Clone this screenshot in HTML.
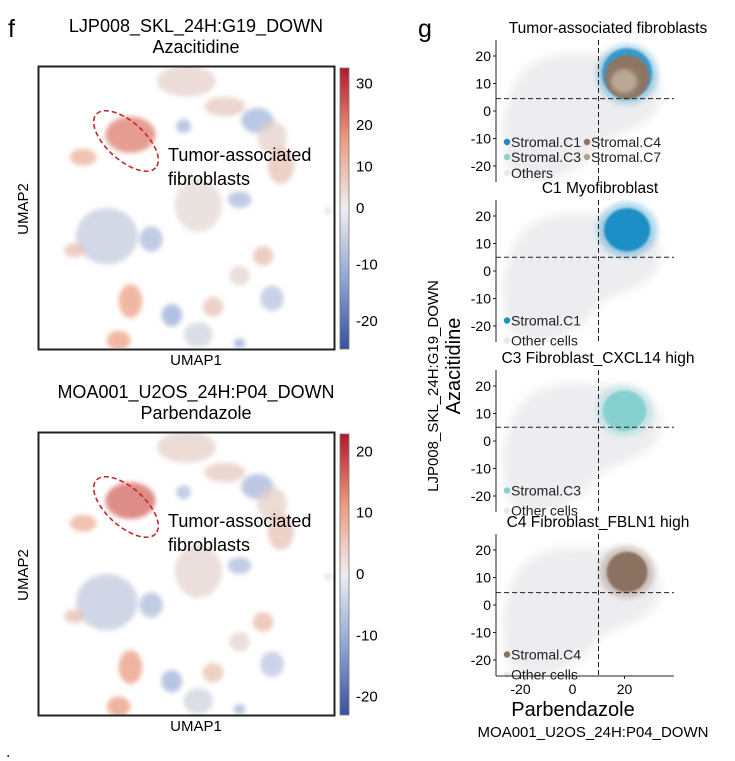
<!DOCTYPE html>
<html><head><meta charset="utf-8">
<style>
body{margin:0;background:#fff;}
svg{display:block;font-family:"Liberation Sans",Arial,sans-serif;}
</style></head>
<body>
<svg id="fig" width="735" height="761" viewBox="0 0 735 761">
<defs>
<filter id="blur" x="-50%" y="-50%" width="200%" height="200%"><feGaussianBlur stdDeviation="2.5"/></filter>
<filter id="blur2" x="-50%" y="-50%" width="200%" height="200%"><feGaussianBlur stdDeviation="5"/></filter>
<filter id="blur1" x="-50%" y="-50%" width="200%" height="200%"><feGaussianBlur stdDeviation="1"/></filter>
<filter id="blur3" x="-50%" y="-50%" width="200%" height="200%"><feGaussianBlur stdDeviation="3"/></filter>
<linearGradient id="cb" x1="0" y1="1" x2="0" y2="0">
<stop offset="0" stop-color="#3a4fa0"/><stop offset="0.25" stop-color="#8fa6d6"/><stop offset="0.5" stop-color="#eeeeee"/><stop offset="0.75" stop-color="#ec9a7c"/><stop offset="1" stop-color="#b2182b"/>
</linearGradient>
<clipPath id="c1"><rect x="39" y="67" width="295" height="281"/></clipPath>
<clipPath id="c2"><rect x="39" y="433" width="295" height="282"/></clipPath>
</defs>
<text x="8" y="37" font-size="25">f</text>
<text x="418" y="37" font-size="25">g</text>
<g id="left"></g>
<g id="right"></g>
<text x="6" y="757" font-size="16">.</text>
</svg>
<script>
// ---------- UMAP data ----------
const umapBlobX = [5.0,3.1,1.5,6.3,7.4,7.9,8.2,4.9,5.4,6.8,2.3,3.8,1.2,3.1,4.5,2.7,7.9,7.6,6.8,5.9,5.4,6.8,9.8];
const umapBlobY = [9.5,7.6,6.8,8.6,8.1,7.5,6.5,7.9,5.1,5.3,4.0,3.9,3.5,1.7,1.2,0.3,1.8,3.3,2.6,1.5,0.5,0.2,4.9];
const umapBlobRx = [1.0,0.85,0.45,0.7,0.55,0.5,0.45,0.25,0.8,0.4,1.05,0.4,0.35,0.4,0.35,0.4,0.4,0.35,0.35,0.35,0.5,0.2,0.12];
const umapBlobRy = [0.55,0.65,0.3,0.35,0.45,0.6,0.65,0.25,0.95,0.3,1.0,0.45,0.25,0.6,0.4,0.35,0.45,0.35,0.35,0.35,0.45,0.18,0.12];
const umapValues1 = [4,22,13,6,-10,4,8,-10,2,-9,-5,-9,9,17,-12,17,-7,9,3,8,-3,-12,2];
const umapValues2 = [3,17,9,4,-9,3,5,-8,2,-8,-5,-8,6,12,-10,12,-6,7,2,6,-3,-10,2];
const cbTicks1 = [30,20,10,0,-10,-20];
const cbRange1 = [-25,34];
const cbTicks2 = [20,10,0,-10,-20];
const cbRange2 = [-23,23];

// ---------- Scatter data ----------
const scatterXTicks = [-20,0,20];
const scatterYTicks = [20,10,0,-10,-20];
const cloudCx = [-8,14,0,-14];
const cloudCy = [-6,6,4,-16];
const cloudRx = [19,20,24,12];
const cloudRy = [17,14,17,10];
const panelTitles = ["Tumor-associated fibroblasts","C1 Myofibroblast","C3 Fibroblast_CXCL14 high","C4 Fibroblast_FBLN1 high"];
const clusterCx = [21,21,20,21];
const clusterCy = [13,15,11,12];
const clusterRx = [8.5,8.5,8,7.5];
const clusterRy = [8,7.5,7,7];
const clusterColors = ["#8d7462","#1f8fc7","#86d0cf","#8b7260"];
const hLine = [4.5,5,5,4.5];
const vLine = 10;

const NS="http://www.w3.org/2000/svg";
function el(tag,attrs,parent){const e=document.createElementNS(NS,tag);for(const k in attrs)e.setAttribute(k,attrs[k]);parent.appendChild(e);return e;}
function txt(s,attrs,parent){const e=el('text',attrs,parent);e.textContent=s;return e;}
function lerp(a,b,t){return a+(b-a)*t;}
function hex(c){return [parseInt(c.slice(1,3),16),parseInt(c.slice(3,5),16),parseInt(c.slice(5,7),16)];}
function cmap(v,lo,hi){
  const stops=[["#3a4fa0",0],["#8fa6d6",.25],["#e0dede",.5],["#ec9a7c",.75],["#b2182b",1]];
  let t = v<0 ? 0.5-0.5*Math.min(1,v/lo) : 0.5+0.5*Math.min(1,v/hi);
  for(let i=0;i<stops.length-1;i++){
    if(t<=stops[i+1][1]){const a=hex(stops[i][0]),b=hex(stops[i+1][0]);const f=(t-stops[i][1])/(stops[i+1][1]-stops[i][1]);
      return `rgb(${Math.round(lerp(a[0],b[0],f))},${Math.round(lerp(a[1],b[1],f))},${Math.round(lerp(a[2],b[2],f))})`;}
  }
  return stops[4][0];
}

const L=document.getElementById('left');
function umapPanel(top, t1, t2, values, ticks, range, clip, idx){
  const g=el('g',{},L);
  
  
  const tt=txt(t1,{x:196,y:top-35,'font-size':18,'text-anchor':'middle'},g);
  
  
  const t2e=txt(t2,{x:196,y:top-14,'font-size':18,'text-anchor':'middle'},g);
  
  
  const x0=39,w=295,h=282;
  const sx=u=>x0+u/10*w, sy=u=>top+h-u/10*h;
  const bl=el('g',{'clip-path':'url(#'+clip+')'},g);
  
  
  for(let i=0;i<umapBlobX.length;i++){
    const e=el('ellipse',{cx:sx(umapBlobX[i]),cy:sy(umapBlobY[i]),rx:umapBlobRx[i]/10*w,ry:umapBlobRy[i]/10*h,fill:cmap(values[i],range[0],range[1]),opacity:0.7,filter:'url(#blur)'},bl);
    
    
  }
  const box=el('rect',{x:x0-0.5,y:top-0.5,width:w+1,height:h+1,fill:'none',stroke:'#222','stroke-width':2},g);
  
  
  const lasso=el('ellipse',{cx:126,cy:top+74,rx:40,ry:19,transform:`rotate(42 126 ${top+74})`,fill:'none',stroke:'#c62828','stroke-width':1.6,'stroke-dasharray':'5 3'},g);
  
  
  const a1=txt('Tumor-associated',{x:168,y:top+94,'font-size':18},g);
  
  
  const a2=txt('fibroblasts',{x:168,y:top+118,'font-size':18},g);
  
  
  const ux=txt('UMAP1',{x:196,y:top+h+16,'font-size':15,'text-anchor':'middle'},g);
  
  
  const uy=txt('UMAP2',{x:0,y:0,'font-size':15,'text-anchor':'middle',transform:`translate(28 ${top+142}) rotate(-90)`},g);
  
  
  const cb=el('rect',{x:340,y:top+1,width:9,height:h-1,fill:'url(#cb)',stroke:'#777','stroke-width':0.8},g);
  
  
  const zeroY=top+h/2;
  const cy=v=> v>=0 ? zeroY-(v/range[1])*(h/2) : zeroY+(v/range[0])*(h/2);
  ticks.forEach(v=>{
    const t=txt(String(v),{x:356,y:cy(v)+5,'font-size':15},g);
    
    
  });
}
umapPanel(67,'LJP008_SKL_24H:G19_DOWN','Azacitidine',umapValues1,cbTicks1,cbRange1,'c1',1);
umapPanel(433,'MOA001_U2OS_24H:P04_DOWN','Parbendazole',umapValues2,cbTicks2,cbRange2,'c2',2);

// ---------- scatter panels ----------
const R=document.getElementById('right');
const zeroYs=[111,271,441,605];
const xs=v=>572.5+v*2.6;
const axX=496, xmax=680;
function legend(g,x,y,color,label){
  const c=el('circle',{cx:x,cy:y-5,r:3.2,fill:color},g);
  
  
  const t=txt(label,{x:x+4,y:y,'font-size':14,fill:'#222'},g);
  
  
}
for(let p=0;p<4;p++){
  const z=zeroYs[p];
  const ys=v=>z-v*2.75;
  const top=ys(25.8), bot=ys(-25.8);
  const g=el('g',{},R);
  
  
  const ti=txt(panelTitles[p],{x:p==0?608:(p==1?600:598),y:top-7,'font-size':15.5,'text-anchor':'middle'},g);
  
  
  const cid='sc'+p;
  const cp=el('clipPath',{id:cid},document.querySelector('defs'));
  el('rect',{x:axX+1,y:top,width:xmax-axX,height:bot-top},cp);
  const pts=el('g',{'clip-path':`url(#${cid})`},g);
  
  
  for(let i=0;i<cloudCx.length;i++){
    const e=el('ellipse',{cx:xs(cloudCx[i]),cy:ys(cloudCy[i]),rx:cloudRx[i]*2.6,ry:cloudRy[i]*2.75,fill:'#ededef',filter:'url(#blur2)'},pts);
    
    
  }
  const cx=xs(clusterCx[p]), cyy=ys(clusterCy[p]), rx=clusterRx[p]*2.6, ry=clusterRy[p]*2.75;
  if(p==0){
    const h=el('ellipse',{cx:cx,cy:cyy-1,rx:rx+9,ry:ry+8,fill:'#2a93c6',opacity:0.35,filter:'url(#blur3)'},pts);
    
    
    const a=el('ellipse',{cx:cx,cy:cyy-2,rx:rx+3,ry:ry+3,fill:'#2a93c6',opacity:0.9,filter:'url(#blur1)'},pts);
    
    
    const b=el('ellipse',{cx:cx,cy:cyy+2,rx:rx,ry:ry,fill:clusterColors[0],filter:'url(#blur1)'},pts);
    
    
    const c=el('ellipse',{cx:cx-3,cy:cyy+6,rx:rx*0.6,ry:ry*0.55,fill:'#b9a894',filter:'url(#blur)'},pts);
    
    
  } else {
    const h=el('ellipse',{cx:cx,cy:cyy,rx:rx+8,ry:ry+7,fill:clusterColors[p],opacity:0.35,filter:'url(#blur3)'},pts);
    
    
    const a=el('ellipse',{cx:cx,cy:cyy,rx:rx+1,ry:ry+1,fill:clusterColors[p],filter:'url(#blur1)'},pts);
    
    
  }
  const hl=el('line',{x1:axX,x2:xmax-6,y1:ys(hLine[p]),y2:ys(hLine[p]),stroke:'#222','stroke-width':1,'stroke-dasharray':'5 3'},g);
  
  
  const vl=el('line',{x1:xs(vLine),x2:xs(vLine),y1:top,y2:bot,stroke:'#222','stroke-width':1,'stroke-dasharray':'5 3'},g);
  
  
  const ax=el('line',{x1:axX,x2:axX,y1:top,y2:bot,stroke:'#222','stroke-width':1},g);
  
  
  scatterYTicks.forEach(v=>{
    el('line',{x1:axX-3,x2:axX,y1:ys(v),y2:ys(v),stroke:'#222'},g);
    const t=txt(String(v),{x:axX-5,y:ys(v)+5,'font-size':14,'text-anchor':'end'},g);
    
    
  });
  if(p==0){
    legend(g,507,147,'#2a86bb','Stromal.C1');
    legend(g,587,147,'#8d7462','Stromal.C4');
    legend(g,507,162,'#8fd2c2','Stromal.C3');
    legend(g,587,162,'#b3a190','Stromal.C7');
    legend(g,507,178,'#e8e8ea','Others');
  } else {
    const names=['','Stromal.C1','Stromal.C3','Stromal.C4'];
    const ly=ys(-18);
    legend(g,507,ly+5,clusterColors[p],names[p]);
    legend(g,507,ly+25,'#e8e8ea','Other cells');
  }
  if(p==3){
    const xa=el('line',{x1:axX,x2:xmax-6,y1:bot,y2:bot,stroke:'#222'},g);
    
    
    scatterXTicks.forEach(v=>{
      el('line',{x1:xs(v),x2:xs(v),y1:bot,y2:bot+3,stroke:'#222'},g);
      const t=txt(String(v),{x:xs(v),y:bot+18,'font-size':14,'text-anchor':'middle'},g);
      
      
    });
  }
}
const xt=txt('Parbendazole',{x:573,y:716,'font-size':20,'text-anchor':'middle'},R);


const xt2=txt('MOA001_U2OS_24H:P04_DOWN',{x:593,y:737,'font-size':15,'text-anchor':'middle'},R);


const yt=txt('LJP008_SKL_24H:G19_DOWN',{x:0,y:0,'font-size':15,'text-anchor':'middle',transform:'translate(438 386) rotate(-90)'},R);


const yt2=txt('Azacitidine',{x:0,y:0,'font-size':20,'text-anchor':'middle',transform:'translate(460 366) rotate(-90)'},R);


</script>
</body></html>
